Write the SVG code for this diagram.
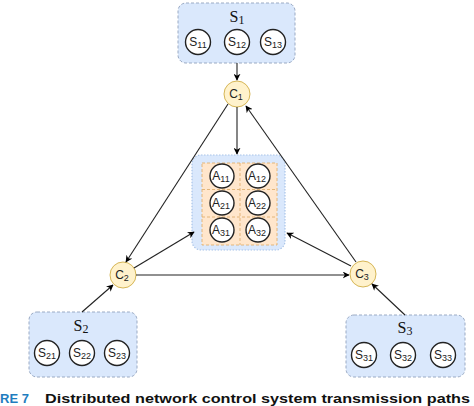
<svg xmlns="http://www.w3.org/2000/svg" width="474" height="406" viewBox="0 0 474 406">
<defs>
<marker id="ah" viewBox="0 0 10 10" refX="9" refY="5" markerWidth="7" markerHeight="7" orient="auto" markerUnits="userSpaceOnUse">
<path d="M0,0 L10,5 L0,10 L3,5 Z" fill="#000"/>
</marker>
<style>
.sbox{fill:#dae8fc;stroke:#9aaac4;stroke-width:1;stroke-dasharray:3 2}
.sc{fill:#fff;stroke:#222;stroke-width:1.4}
.cc{fill:#fff2cc;stroke:#d6b656;stroke-width:1}
.t{font-family:"Liberation Sans",Arial,sans-serif;font-size:12px;fill:#222;text-anchor:middle}
.sub{font-size:9px}
.st{font-family:"Liberation Serif","Times New Roman",serif;font-size:16px;fill:#111;text-anchor:middle}
.ssub{font-size:12px}
.e{stroke:#222;stroke-width:1.1;fill:none;marker-end:url(#ah)}
.cap{font-family:"Liberation Sans",Arial,sans-serif;font-size:13px;font-weight:bold}
</style>
</defs>
<rect width="474" height="406" fill="#fff"/>

<g id="S1">
<rect class="sbox" x="178" y="3" width="117" height="60" rx="8"/>
<text class="st" x="237" y="22">S<tspan class="ssub" dy="2">1</tspan></text>
<circle class="sc" cx="198" cy="42" r="12.5"/><text class="t" x="198" y="46">S<tspan class="sub" dy="2">11</tspan></text>
<circle class="sc" cx="237" cy="42" r="12.5"/><text class="t" x="237" y="46">S<tspan class="sub" dy="2">12</tspan></text>
<circle class="sc" cx="273" cy="42" r="12.5"/><text class="t" x="273" y="46">S<tspan class="sub" dy="2">13</tspan></text>
</g>

<g id="S2">
<rect class="sbox" x="29" y="312" width="108" height="65" rx="8"/>
<text class="st" x="81" y="331">S<tspan class="ssub" dy="2">2</tspan></text>
<circle class="sc" cx="47" cy="353" r="12.5"/><text class="t" x="47" y="357">S<tspan class="sub" dy="2">21</tspan></text>
<circle class="sc" cx="82" cy="353" r="12.5"/><text class="t" x="82" y="357">S<tspan class="sub" dy="2">22</tspan></text>
<circle class="sc" cx="117" cy="353" r="12.5"/><text class="t" x="117" y="357">S<tspan class="sub" dy="2">23</tspan></text>
</g>

<g id="S3">
<rect class="sbox" x="346" y="315" width="119" height="62" rx="8"/>
<text class="st" x="405" y="333">S<tspan class="ssub" dy="2">3</tspan></text>
<circle class="sc" cx="364" cy="355" r="12.5"/><text class="t" x="364" y="359">S<tspan class="sub" dy="2">31</tspan></text>
<circle class="sc" cx="403" cy="355" r="12.5"/><text class="t" x="403" y="359">S<tspan class="sub" dy="2">32</tspan></text>
<circle class="sc" cx="443" cy="355" r="12.5"/><text class="t" x="443" y="359">S<tspan class="sub" dy="2">33</tspan></text>
</g>

<g id="C1"><circle class="cc" cx="237" cy="94" r="13"/><text class="t" x="236" y="98">C<tspan class="sub" dy="2">1</tspan></text></g>
<g id="C2"><circle class="cc" cx="123" cy="275" r="13"/><text class="t" x="122" y="279">C<tspan class="sub" dy="2">2</tspan></text></g>
<g id="C3"><circle class="cc" cx="363" cy="274" r="13"/><text class="t" x="362" y="278">C<tspan class="sub" dy="2">3</tspan></text></g>

<g id="A">
<rect x="192" y="155" width="93" height="95" rx="9" fill="#dae8fc" stroke="#a9c4e8" stroke-width="1.2" stroke-dasharray="1.5 1.5"/>
<rect x="202" y="163" width="75" height="82" fill="#ffe6cc" stroke="#e0b070" stroke-width="0.9" stroke-dasharray="3 2"/>
<path d="M202,189.5 H277 M202,217 H277 M240,163 V245" stroke="#e0b070" stroke-width="0.9" stroke-dasharray="3 2" fill="none"/>
<circle class="sc" cx="222" cy="176" r="12"/><text class="t" x="221" y="180">A<tspan class="sub" dy="2">11</tspan></text>
<circle class="sc" cx="258" cy="176" r="12"/><text class="t" x="257" y="180">A<tspan class="sub" dy="2">12</tspan></text>
<circle class="sc" cx="222" cy="203" r="12"/><text class="t" x="221" y="207">A<tspan class="sub" dy="2">21</tspan></text>
<circle class="sc" cx="258" cy="203" r="12"/><text class="t" x="257" y="207">A<tspan class="sub" dy="2">22</tspan></text>
<circle class="sc" cx="222" cy="230" r="12"/><text class="t" x="221" y="234">A<tspan class="sub" dy="2">31</tspan></text>
<circle class="sc" cx="258" cy="230" r="12"/><text class="t" x="257" y="234">A<tspan class="sub" dy="2">32</tspan></text>
</g>

<g id="connectors">
<line class="e" x1="237" y1="63" x2="237" y2="80"/>
<line class="e" x1="237" y1="107" x2="237" y2="154"/>
<line class="e" x1="228" y1="104" x2="126" y2="262"/>
<line class="e" x1="134" y1="268" x2="194" y2="232"/>
<line class="e" x1="136" y1="275" x2="349" y2="275"/>
<line class="e" x1="356" y1="262" x2="246" y2="106"/>
<line class="e" x1="351" y1="266" x2="287" y2="233"/>
<line class="e" x1="82" y1="312" x2="113" y2="285"/>
<line class="e" x1="405" y1="315" x2="372" y2="284"/>
</g>

<text class="cap" x="0" y="403" fill="#1f7dbf">RE 7</text>
<text class="cap" x="45" y="403" fill="#111" textLength="425" lengthAdjust="spacingAndGlyphs">Distributed network control system transmission paths</text>
</svg>
